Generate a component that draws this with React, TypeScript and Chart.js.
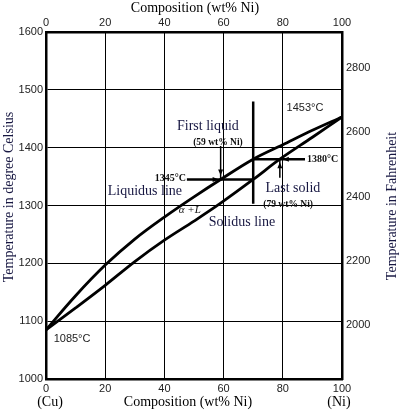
import React, { useEffect, useRef } from "react";
import { Chart, registerables } from "chart.js";

Chart.register(...registerables);

// Liquidus curve (wt% Ni, °C)
const liquidusX = [0, 10, 20, 30, 40, 50, 59, 70, 80, 90, 100];
const liquidusT = [1085, 1144, 1197, 1242, 1280, 1315, 1345, 1380, 1405, 1430, 1453];
// Solidus curve
const solidusX = [0, 10, 20, 30, 40, 50, 59, 70, 79, 90, 100];
const solidusT = [1085, 1123, 1162, 1203, 1240, 1273, 1304, 1345, 1380, 1418, 1453];

// Guide lines for the 70 wt% Ni alloy
const alloyX = [70, 70];
const alloyT = [1480, 1303];
const tie1345X = [47.6, 70];
const tie1345T = [1345, 1345];
const tie1380X = [70, 87.5];
const tie1380T = [1380, 1380];
const mark59X = [59, 59];
const mark59T = [1403, 1345];
const mark79X = [79, 79];
const mark79T = [1380, 1348];

const compTicks = [0, 20, 40, 60, 80, 100];
const celsiusTicks = [1000, 1100, 1200, 1300, 1400, 1500, 1600];
const fahrenheitTicks = [2000, 2200, 2400, 2600, 2800];

const toPts = (xs: number[], ys: number[]) => xs.map((x, i) => ({ x, y: ys[i] }));
const cToF = (c: number) => c * 1.8 + 32;

const SERIF = "'Liberation Serif', 'Times New Roman', serif";
const SANS = "'Liberation Sans', Arial, sans-serif";
const NAVY = "#171742";

export default function App() {
  const ref = useRef<HTMLCanvasElement | null>(null);

  useEffect(() => {
    if (!ref.current) return;

    const textPlugin = {
      id: "labels",
      afterDraw(chart: any) {
        const ctx = chart.ctx as CanvasRenderingContext2D;
        const xs = chart.scales.x;
        const ys = chart.scales.y;
        const px = (v: number) => xs.getPixelForValue(v);
        const py = (v: number) => ys.getPixelForValue(v);
        ctx.save();
        const text = (s: string, x: number, y: number, font: string, color: string, align: CanvasTextAlign = "center") => {
          ctx.font = font;
          ctx.fillStyle = color;
          ctx.textAlign = align;
          ctx.textBaseline = "middle";
          ctx.fillText(s, x, y);
        };
        // axis titles
        text("Composition (wt% Ni)", 195, 8, `14px ${SERIF}`, "#000");
        text("(Cu)", 50, 402, `14px ${SERIF}`, "#000");
        text("Composition (wt% Ni)", 188, 402, `14px ${SERIF}`, "#000");
        text("(Ni)", 339, 402, `14px ${SERIF}`, "#000");
        ctx.save();
        ctx.translate(9, 197);
        ctx.rotate(-Math.PI / 2);
        text("Temperature in degree Celsius", 0, 0, `14px ${SERIF}`, NAVY);
        ctx.restore();
        ctx.save();
        ctx.translate(392, 206);
        ctx.rotate(-Math.PI / 2);
        text("Temperature in Fahrenheit", 0, 0, `14px ${SERIF}`, NAVY);
        ctx.restore();

        // annotations
        text("1453°C", px(87.5), py(1469), `11px ${SANS}`, "#222");
        text("1085°C", px(8.8), py(1069), `11px ${SANS}`, "#222");
        text("First liquid", px(54.7), py(1437), `14px ${SERIF}`, NAVY);
        text("(59 wt% Ni)", px(58.1), py(1408), `bold 9.5px ${SERIF}`, "#111");
        text("1345°C", px(47.3), py(1347), `bold 10px ${SERIF}`, "#111", "right");
        text("Liquidus line", px(33.4), py(1325), `14px ${SERIF}`, NAVY);
        text("α +L", px(48.6), py(1292), `italic 11px ${SERIF}`, "#111");
        text("Solidus line", px(66.2), py(1271), `14px ${SERIF}`, NAVY);
        text("Last solid", px(83.4), py(1330), `14px ${SERIF}`, NAVY);
        text("(79 wt% Ni)", px(81.8), py(1301), `bold 9.5px ${SERIF}`, "#111");
        text("1380°C", px(88.2), py(1380), `bold 10px ${SERIF}`, "#111", "left");

        // arrowheads
        const arrow = (x: number, y: number, dx: number, dy: number) => {
          const len = 6, w = 2.5;
          const nx = -dy, ny = dx;
          ctx.beginPath();
          ctx.moveTo(x, y);
          ctx.lineTo(x - dx * len + nx * w, y - dy * len + ny * w);
          ctx.lineTo(x - dx * len - nx * w, y - dy * len - ny * w);
          ctx.closePath();
          ctx.fillStyle = "#000";
          ctx.fill();
        };
        arrow(px(59) - 2, py(1345), 1, 0);
        arrow(px(59), py(1345) - 4, 0, 1);
        arrow(px(79) + 3, py(1380), -1, 0);
        arrow(px(79), py(1380) + 3, 0, -1);
        ctx.restore();
      },
    };

    const lineDs = (xs: number[], ys: number[], width: number, curve = false) => ({
      data: toPts(xs, ys),
      showLine: true,
      borderColor: "#000",
      backgroundColor: "#000",
      borderWidth: width,
      pointRadius: 0,
      fill: false,
      tension: curve ? 0.35 : 0,
    });

    const tickFont = { family: SANS, size: 11 };
    const plain = (v: any) => String(v);

    const chart = new Chart(ref.current, {
      type: "scatter",
      data: {
        datasets: [
          lineDs(liquidusX, liquidusT, 2.8, true),
          lineDs(solidusX, solidusT, 2.8, true),
          lineDs(alloyX, alloyT, 2.5),
          lineDs(tie1345X, tie1345T, 2.5),
          lineDs(tie1380X, tie1380T, 2.5),
          lineDs(mark59X, mark59T, 1.5),
          lineDs(mark79X, mark79T, 1.5),
        ] as any,
      },
      options: {
        animation: false,
        responsive: false,
        plugins: { legend: { display: false }, tooltip: { enabled: false } },
        layout: { padding: 0 },
        scales: {
          x: {
            type: "linear",
            position: "bottom",
            min: 0,
            max: 100,
            afterBuildTicks: (s: any) => { s.ticks = compTicks.map((v) => ({ value: v })); },
            afterFit: (s: any) => { s.height = 34; },
            ticks: { font: tickFont, color: "#222", padding: 3, maxRotation: 0, callback: plain },
            grid: { color: "#000", lineWidth: 1, drawTicks: false },
            border: { color: "#000", width: 2.5 },
          },
          x2: {
            type: "linear",
            position: "top",
            min: 0,
            max: 100,
            afterBuildTicks: (s: any) => { s.ticks = compTicks.map((v) => ({ value: v })); },
            afterFit: (s: any) => { s.height = 32; },
            ticks: { font: tickFont, color: "#222", padding: 2, maxRotation: 0, callback: plain },
            grid: { drawOnChartArea: false, drawTicks: false },
            border: { color: "#000", width: 2.5 },
          },
          y: {
            type: "linear",
            position: "left",
            min: 1000,
            max: 1600,
            afterBuildTicks: (s: any) => { s.ticks = celsiusTicks.map((v) => ({ value: v })); },
            afterFit: (s: any) => { s.width = 46; },
            ticks: { font: tickFont, color: "#222", padding: 3, callback: plain },
            grid: { color: "#000", lineWidth: 1, drawTicks: false },
            border: { color: "#000", width: 2.5 },
          },
          y2: {
            type: "linear",
            position: "right",
            min: cToF(1000),
            max: cToF(1600),
            afterBuildTicks: (s: any) => { s.ticks = fahrenheitTicks.map((v) => ({ value: v })); },
            afterFit: (s: any) => { s.width = 57; },
            ticks: { font: tickFont, color: "#222", padding: 4, callback: plain },
            grid: { drawOnChartArea: false, drawTicks: false },
            border: { color: "#000", width: 2.5 },
          },
        },
      },
      plugins: [textPlugin],
    });
    return () => chart.destroy();
  }, []);

  return (
    <div style={{ position: "fixed", left: 0, top: 0, width: 399, height: 413, background: "#fff" }}>
      <canvas ref={ref} width={399} height={413} style={{ width: 399, height: 413 }} />
    </div>
  );
}
